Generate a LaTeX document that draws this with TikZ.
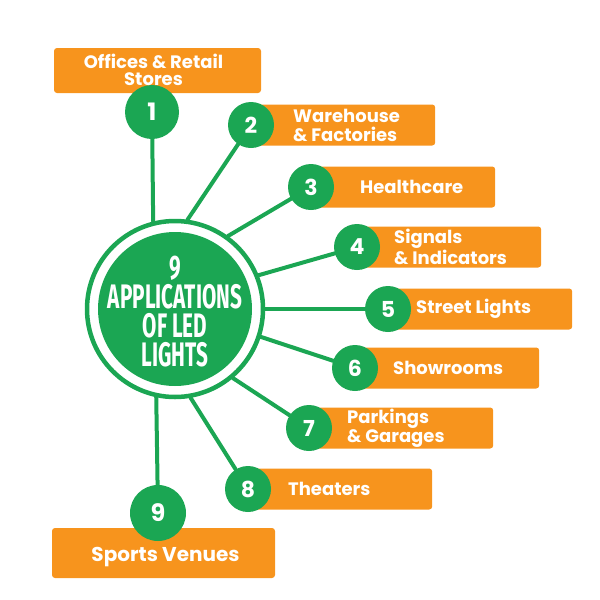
\documentclass[tikz,border=0pt]{standalone}
\usepackage{fontspec}
\setsansfont{Poppins}
\newfontfamily\hubfont[FakeStretch=0.61]{Fira Sans}
\usetikzlibrary{positioning, backgrounds}

\begin{document}
\begin{tikzpicture}[
    x=1pt, y=-1pt,
    font=\sffamily\bfseries,
    every path/.style={line cap=round},
]
% ── Colours ──
\definecolor{leaf}{HTML}{1BA653}
\definecolor{amber}{HTML}{F7941D}

% ── Styles ──
\tikzset{
    hub-ring/.style={
        circle, draw=leaf, line width=4.5pt,
        minimum size=176pt, inner sep=0pt,
    },
    hub-disk/.style={
        circle, fill=leaf, minimum size=154pt, inner sep=0pt,
    },
    hub-text/.style={
        text=white, align=center, inner sep=0pt,
        font=\hubfont\bfseries\fontsize{34}{29}\selectfont,
    },
    num/.style={
        circle, fill=leaf, text=white,
        minimum size=46pt, inner sep=0pt,
        font=\sffamily\bfseries\fontsize{22}{22}\selectfont,
    },
    num-big/.style={num, minimum size=54pt,
        font=\sffamily\bfseries\fontsize{24}{24}\selectfont},
    tag-box/.style={
        rectangle, rounded corners=3pt, fill=amber,
        minimum width=184pt, minimum height=41pt,
        inner sep=0pt, anchor=west,
    },
    tag-text/.style={
        text=white, align=left, inner sep=0pt, anchor=west,
        font=\sffamily\bfseries\fontsize{18}{19}\selectfont,
    },
    spoke/.style={draw=leaf, line width=4pt},
}

\useasboundingbox (0,0) rectangle (600,600);

% ── Hub ──
\node[hub-ring] (hub) at (175,309) {};
\node[hub-disk] (core) at (hub.center) {};
\node[hub-text] (title) at ([yshift=-3pt]core.center)
    {9\\APPLICATIONS\\OF LED\\LIGHTS};

% ── Numbered circles ──
\node[num-big] (n1) at (152,112) {1};
\node[num] (n2) at (251,125) {2};
\node[num] (n3) at (311,187) {3};
\node[num] (n4) at (357,247) {4};
\node[num] (n5) at (388,309) {5};
\node[num] (n6) at (355,368) {6};
\node[num] (n7) at (309,428) {7};
\node[num] (n8) at (248,489) {8};
\node[num-big, minimum size=56pt] (n9) at (158,513) {9};

% ── Boxes and spokes behind the circles ──
\begin{scope}[on background layer]
    \node[tag-box, anchor=center, minimum width=207pt, minimum height=45pt]
        (b1) at (157.5,70.5) {};
    \foreach \i in {2,...,8}
        \node[tag-box] (b\i) at (n\i.center) {};
    \node[tag-box, anchor=center, minimum width=223pt, minimum height=50pt]
        (b9) at (163.5,553) {};

    \foreach \i/\a in {1/104, 2/82, 3/54, 4/22, 5/0, 6/-18, 7/-50, 8/-80, 9/258}
        \draw[spoke] (n\i) -- (hub.\a);
\end{scope}

% ── Labels ──
\node[tag-text, align=center, anchor=center,
      font=\sffamily\bfseries\fontsize{18}{17}\selectfont]
    (t1) at ([xshift=-4pt, yshift=1pt]b1.center) {Offices \& Retail\\Stores};
\node[tag-text] (t2) at ([xshift=42pt]b2.west) {Warehouse\\\& Factories};
\node[tag-text] (t3) at ([xshift=49pt]b3.west) {Healthcare};
\node[tag-text] (t4) at ([xshift=37pt]b4.west) {Signals\\\& Indicators};
\node[tag-text] (t5) at ([xshift=28pt]b5.west) {Street Lights};
\node[tag-text] (t6) at ([xshift=38pt]b6.west) {Showrooms};
\node[tag-text] (t7) at ([xshift=38pt]b7.west) {Parkings\\\& Garages};
\node[tag-text] (t8) at ([xshift=40pt]b8.west) {Theaters};
\node[tag-text, anchor=center,
      font=\sffamily\bfseries\fontsize{20}{20}\selectfont]
    (t9) at ([xshift=2pt, yshift=-4pt]b9.center) {Sports Venues};

\end{tikzpicture}
\end{document}
